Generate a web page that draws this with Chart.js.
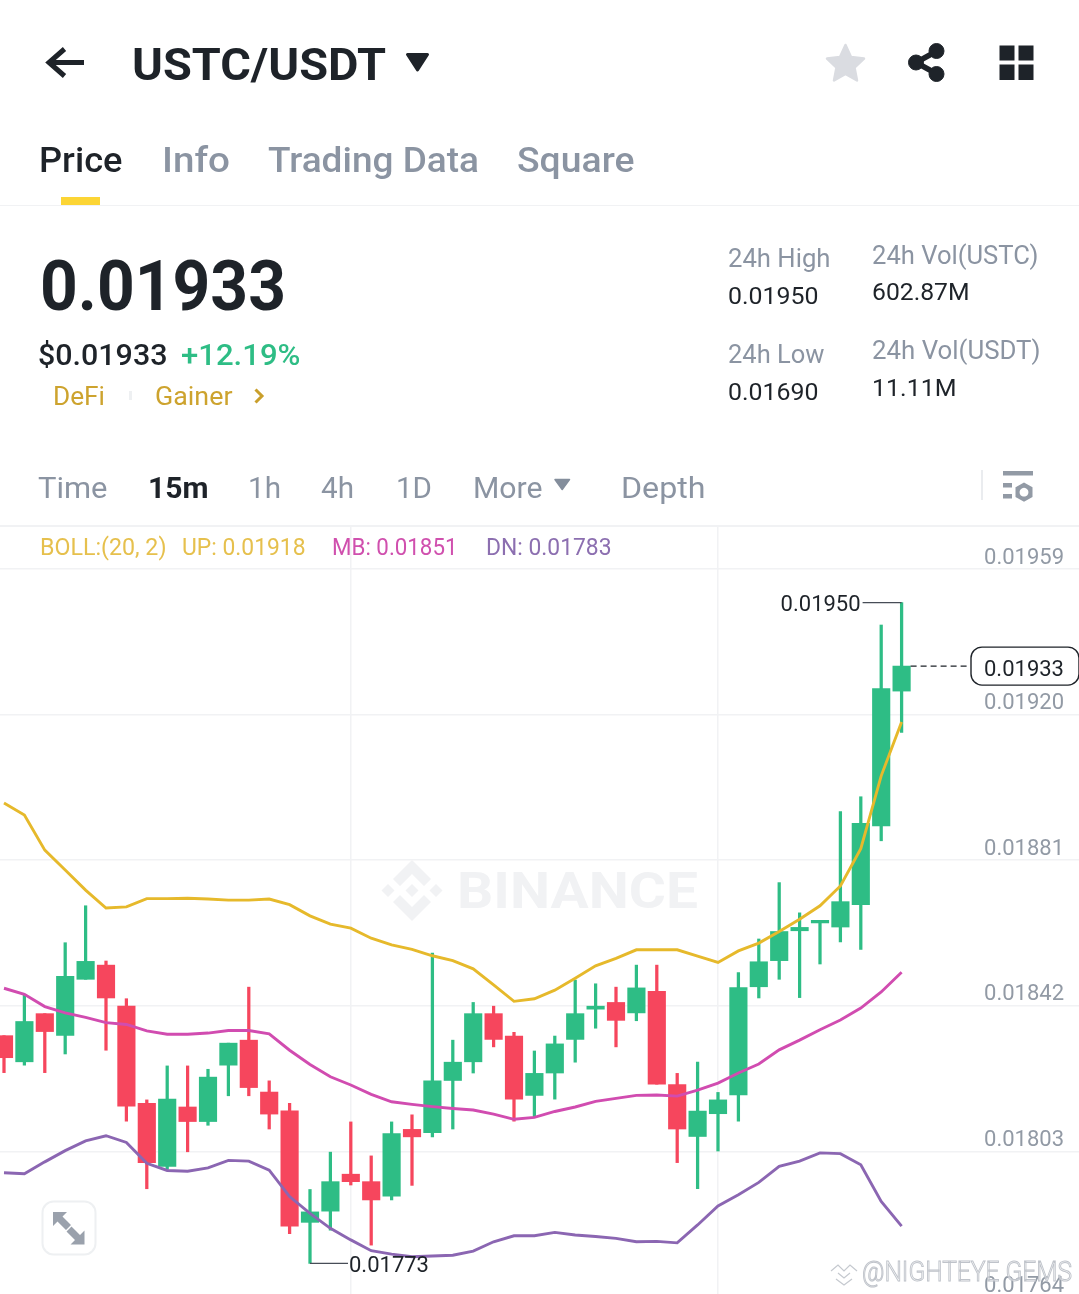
<!DOCTYPE html>
<html><head><meta charset="utf-8">
<script src="https://cdn.jsdelivr.net/npm/chart.js@4/dist/chart.umd.min.js"></script>
<style>
html,body{margin:0;padding:0;width:1079px;height:1294px;overflow:hidden;background:#fff;font-family:Roboto,sans-serif}
.t{position:absolute;white-space:nowrap;line-height:1;transform-origin:0 50%}
.hr{position:absolute;left:0;width:1079px;height:2px;background:#F1F2F4}
svg.over{position:absolute;left:0;top:0;z-index:3;pointer-events:none}
#wrap{position:absolute;left:0;top:526px;width:1079px;height:774px;z-index:2}
</style></head><body>
<svg class="over" width="1079" height="1294" viewBox="0 0 1079 1294">
  <path d="M84 62.5H50M64.5 49L49 62.5L64.5 76" fill="none" stroke="#1E2329" stroke-width="5"/>
  <path d="M407.500 54.500H427.500L417.500 70Z" fill="#1E2329" stroke="#1E2329" stroke-width="3" stroke-linejoin="round"/>
  <path d="M845.500 45L851 57L864 58.500L854.500 67.500L857 80.500L845.500 74L834 80.500L836.500 67.500L827 58.500L840 57Z" fill="#DADCE1" stroke="#DADCE1" stroke-width="2.500" stroke-linejoin="round"/>
  <g fill="#1E2329" stroke="#1E2329"><path d="M937 51L916 62.500L937 74" fill="none" stroke-width="5.500"/><circle cx="936.500" cy="51" r="7.500"/><circle cx="936.500" cy="74" r="7.500"/><circle cx="916" cy="62.500" r="7.500"/></g>
  <g fill="#1E2329"><rect x="999.500" y="45.500" width="15" height="15"/><rect x="1018.500" y="45.500" width="15" height="15"/><rect x="999.500" y="64.500" width="15" height="15.500"/><rect x="1018.500" y="64.500" width="15" height="15.500"/></g>
  <rect x="61" y="197" width="39" height="8" fill="#FCD535"/>
  <rect x="129" y="391" width="3" height="9" fill="#EEF0F2"/>
  <path d="M255.500 389.500L262 396L255.500 402.500" fill="none" stroke="#C99F2B" stroke-width="3"/>
  <path d="M555 479.500H569.500L562.200 489.500Z" fill="#848E9C" stroke="#848E9C" stroke-width="1.500" stroke-linejoin="round"/>
  <rect x="981" y="470" width="2" height="30" fill="#EAECEF"/>
  <g fill="#929AA5"><rect x="1003" y="471" width="30" height="4.500"/><rect x="1003" y="483" width="9" height="4.500"/><rect x="1003" y="494" width="9" height="4.500"/><path fill-rule="evenodd" d="M1024 482.500L1032.500 487.300V497L1024 501.800L1015.500 497V487.300ZM1024 487.800a4.400 4.400 0 1 0 0.010 0Z"/></g>
  <rect x="42.500" y="1201.500" width="53" height="53" rx="11" fill="#fff" stroke="#EEF0F2" stroke-width="2"/>
  <g fill="#9AA1AC"><path d="M53 1212H67L62.500 1216.500L71 1225L66 1230L57.500 1221.500L53 1226Z"/><path d="M84.500 1244.500H70.500L75 1240L66.500 1231.500L71.500 1226.500L80 1235L84.500 1230.500Z"/></g>
  <g fill="none" stroke="#C5C9CF" stroke-width="1.200"><path d="M831 1271L838 1265L844 1271L850 1265L857 1271"/><path d="M838 1273L844 1278L850 1273"/><path d="M836 1279L844 1285L852 1279"/></g>
</svg>
<svg style="position:absolute;left:0;top:0;z-index:0" width="1079" height="1294" viewBox="0 0 1079 1294">
  <g fill="#F1F2F4"><path d="M412 860L431 879L424 886L412 874L400 886L393 879Z"/><path d="M412 921L431 902L424 895L412 907L400 895L393 902Z"/><path d="M412 884L418.500 890.500L412 897L405.500 890.500Z"/><path d="M388 884L394.500 890.500L388 897L381.500 890.500Z"/><path d="M436 884L442.500 890.500L436 897L429.500 890.500Z"/></g>
</svg>
<div class="hr" style="top:205px;height:1px"></div>
<div class="hr" style="top:525px"></div>
<div id="wrap"><canvas id="c" width="1079" height="774" style="display:block;width:1079px;height:774px"></canvas></div>
<script>
// ---- chart data ----
const opens  = [0.018340,0.018270,0.018399,0.018341,0.018491,0.018529,0.018419,0.018159,0.017990,0.018149,0.018110,0.018261,0.018328,0.018189,0.018139,0.017840,0.017870,0.017969,0.017949,0.017910,0.018089,0.018080,0.018220,0.018270,0.018399,0.018339,0.018180,0.018240,0.018330,0.018411,0.018429,0.018401,0.018459,0.018209,0.018070,0.018131,0.018181,0.018471,0.018541,0.018621,0.018642,0.018631,0.018691,0.018902,0.019263];
const closes = [0.018281,0.018378,0.018351,0.018499,0.018539,0.018441,0.018151,0.018000,0.018170,0.018110,0.018229,0.018320,0.018201,0.018130,0.017830,0.017868,0.017949,0.017949,0.017900,0.018078,0.018069,0.018219,0.018269,0.018399,0.018330,0.018170,0.018239,0.018318,0.018399,0.018419,0.018381,0.018468,0.018210,0.018090,0.018138,0.018168,0.018469,0.018538,0.018619,0.018630,0.018649,0.018699,0.018909,0.019270,0.019330];
const highs  = [0.018340,0.018449,0.018399,0.018589,0.018688,0.018540,0.018439,0.018168,0.018259,0.018259,0.018250,0.018320,0.018470,0.018219,0.018159,0.017928,0.018028,0.018109,0.018018,0.018109,0.018128,0.018561,0.018328,0.018429,0.018419,0.018349,0.018299,0.018339,0.018489,0.018479,0.018470,0.018529,0.018529,0.018239,0.018269,0.018188,0.018509,0.018599,0.018750,0.018669,0.018649,0.018940,0.018980,0.019440,0.019500];
const lows   = [0.018241,0.018261,0.018241,0.018291,0.018491,0.018301,0.018111,0.017930,0.017982,0.018029,0.018100,0.018179,0.018179,0.018090,0.017810,0.017730,0.017819,0.017940,0.017779,0.017900,0.017939,0.018069,0.018090,0.018240,0.018310,0.018111,0.018123,0.018170,0.018269,0.018360,0.018310,0.018380,0.018210,0.018000,0.017930,0.018031,0.018111,0.018441,0.018491,0.018442,0.018532,0.018591,0.018571,0.018862,0.019152];
const bollUp = [0.018963,0.018931,0.018837,0.018784,0.018730,0.018682,0.018685,0.018707,0.018707,0.018708,0.018706,0.018703,0.018703,0.018706,0.018691,0.018661,0.018639,0.018628,0.018601,0.018583,0.018571,0.018554,0.018541,0.018519,0.018476,0.018432,0.018439,0.018462,0.018494,0.018527,0.018547,0.018570,0.018570,0.018570,0.018553,0.018536,0.018567,0.018588,0.018619,0.018652,0.018688,0.018741,0.018841,0.019036,0.019180];
const bollMb = [0.018467,0.018451,0.018418,0.018401,0.018389,0.018375,0.018370,0.018353,0.018344,0.018344,0.018347,0.018354,0.018354,0.018345,0.018301,0.018263,0.018230,0.018208,0.018183,0.018163,0.018156,0.018150,0.018145,0.018141,0.018130,0.018116,0.018121,0.018137,0.018149,0.018164,0.018172,0.018180,0.018181,0.018178,0.018194,0.018213,0.018240,0.018264,0.018302,0.018328,0.018356,0.018382,0.018414,0.018457,0.018510];
const bollDn = [0.017973,0.017970,0.018002,0.018032,0.018058,0.018072,0.018054,0.017998,0.017979,0.017977,0.017986,0.018006,0.018004,0.017980,0.017909,0.017864,0.017824,0.017793,0.017764,0.017755,0.017748,0.017750,0.017752,0.017763,0.017788,0.017804,0.017804,0.017813,0.017806,0.017802,0.017797,0.017788,0.017789,0.017785,0.017833,0.017884,0.017914,0.017947,0.017990,0.018004,0.018026,0.018024,0.017994,0.017896,0.017830];
const priceTicks = [0.01959,0.01920,0.01881,0.01842,0.01803,0.01764];
const dayHigh = 0.01950, dayLow = 0.01773, lastPrice = 0.01933;

const GREEN='#2EBD85', RED='#F6465D';
const idx = opens.map((_,i)=>i);
const candleColors = opens.map((o,i)=>closes[i]>=o?GREEN:RED);
const lineDs=(label,data,color)=>({type:'line',label,data:data.map((y,i)=>({x:i,y})),borderColor:color,borderWidth:2.9,pointRadius:0,tension:0,order:0,fill:false,clip:false});

const annot={id:'annot',afterDatasetsDraw(ch){
  const g=ch.ctx,x=ch.scales.x,y=ch.scales.y;
  g.save();
  g.font='22px Roboto';g.textBaseline='middle';g.fillStyle='#1E2329';
  // day high
  const hi=highs.indexOf(dayHigh),hx=x.getPixelForValue(hi),hy=y.getPixelForValue(dayHigh);
  g.strokeStyle='#474D57';g.lineWidth=1.4;
  g.beginPath();g.moveTo(hx,hy);g.lineTo(hx-39,hy);g.stroke();
  g.textAlign='right';g.fillText(dayHigh.toFixed(5),hx-41,hy+2.5);
  // day low
  const li=lows.indexOf(dayLow),lx=x.getPixelForValue(li),ly=y.getPixelForValue(dayLow);
  g.beginPath();g.moveTo(lx,ly);g.lineTo(lx+38,ly);g.stroke();
  g.textAlign='left';g.fillText(dayLow.toFixed(5),lx+39,ly+3.5);
  // last price
  const px=x.getPixelForValue(closes.length-1)+9,py=y.getPixelForValue(lastPrice);
  g.setLineDash([6,4]);g.strokeStyle='#1E2329';g.lineWidth=1.2;
  g.beginPath();g.moveTo(px,py);g.lineTo(968,py);g.stroke();g.setLineDash([]);
  g.fillStyle='#fff';g.strokeStyle='#1E2329';g.lineWidth=1.4;
  g.beginPath();g.roundRect(971,py-19,108,38,11);g.fill();g.stroke();
  g.fillStyle='#1E2329';g.textAlign='left';g.fillText(lastPrice.toFixed(5),984,py+4);
  g.restore();
}};

new Chart(document.getElementById('c'),{
  type:'bar',
  data:{datasets:[
    lineDs('UP',bollUp,'#E6B92B'),
    lineDs('MB',bollMb,'#D14CB0'),
    lineDs('DN',bollDn,'#8B66B2'),
    {label:'Body',data:idx.map(i=>({x:i,y:[opens[i],closes[i]]})),backgroundColor:candleColors,barThickness:17.5,grouped:false,order:1,borderSkipped:false},
    {label:'Wick',data:idx.map(i=>({x:i,y:[lows[i],highs[i]]})),backgroundColor:candleColors,barThickness:2.6,grouped:false,order:2,borderSkipped:false}
  ]},
  options:{
    responsive:false,animation:false,devicePixelRatio:1,
    layout:{padding:0},
    plugins:{legend:{display:false},tooltip:{enabled:false}},
    scales:{
      x:{type:'linear',offset:false,min:-0.196,max:52.696,
        afterBuildTicks:s=>{s.ticks=[{value:17},{value:35}]},
        afterFit:s=>{s.height=0},
        grid:{offset:false,color:'#F1F2F4',lineWidth:1.5,drawTicks:false},border:{display:false},ticks:{display:false}},
      y:{type:'linear',position:'right',beginAtZero:false,min:0.017632,max:0.0197052,
        afterBuildTicks:s=>{s.ticks=priceTicks.map(value=>({value}))},
        afterFit:s=>{s.width=0},
        grid:{color:'#F1F2F4',lineWidth:1.5,drawTicks:false},border:{display:false},
        ticks:{mirror:true,padding:-15,labelOffset:-11,autoSkip:false,color:'#929AA5',font:{family:'Roboto',size:22},callback:v=>v.toFixed(5)}}
    }
  },
  plugins:[annot]
});

// ---- page texts ----
const INK='#1E2329',GR='#8B94A2',GOLD='#CDA32E',BY='#E6C04D',BM='#D050AE',BP='#8C6FB0';
const texts=[
 ['USTC/USDT',132,80,45,INK,700,254],
 ['Price',39,172,35,INK,500,83.5],['Info',162,172,35,GR,500,68],['Trading Data',268,172,35,GR,500,211],['Square',517,172,35,GR,500,117.5],
 ['0.01933',40,310,70,INK,700,246],
 ['$0.01933',38,365,29,INK,500,129.5],['+12.19%',181,365,29,GREEN,500,119.5],
 ['DeFi',53,405,25,GOLD,400,52],['Gainer',155,405,25,GOLD,400,77.5],
 ['24h High',728,267,26,GR,400,102.5],['0.01950',728,304,24,INK,400,90.5],
 ['24h Low',728,363,26,GR,400,96.5],['0.01690',728,400,24,INK,400,90.5],
 ['24h Vol(USTC)',872,264,26,GR,400,166.5],['602.87M',872,300,24,INK,400,97.5],
 ['24h Vol(USDT)',872,359,26,GR,400,168.5],['11.11M',872,396,24,INK,400,84.5],
 ['Time',38,498,30,GR,400,69.5],['15m',148,498,30,INK,700,60.5],['1h',248,498,30,GR,400,33],['4h',321,498,30,GR,400,33],['1D',396,498,30,GR,400,36],['More',473,498,30,GR,400,69.5],['Depth',621,498,30,GR,400,84.5],
 ['BOLL:(20, 2)',40,556,23.5,BY,400,126.5],['UP: 0.01918',182,556,23.5,BY,400,123.5],['MB: 0.01851',332,556,23.5,BM,400,125.5],['DN: 0.01783',486,556,23.5,BP,400,125.5],
 ['BINANCE',457,908,50,'#F1F2F4',700,241,0]
];
texts.forEach(([s,x,b,fs,col,w,tw,z])=>{
  const e=document.createElement('div');e.className='t';e.textContent=s;
  e.style.cssText=`left:${x}px;top:${b-0.8415*fs}px;font-size:${fs}px;color:${col};font-weight:${w};z-index:${z===0?0:3}`;
  document.body.appendChild(e);
  e.style.transform=`scaleX(${tw/e.getBoundingClientRect().width})`;
});
const wm=document.createElement('div');wm.className='t';wm.textContent='@NIGHTEYE GEMS';
wm.style.cssText='left:862px;top:1258.4px;font-size:28px;color:rgba(255,255,255,.55);-webkit-text-stroke:1px #BFC3CA;z-index:4;font-weight:300';
document.body.appendChild(wm);
wm.style.transform=`scaleX(${210/wm.getBoundingClientRect().width})`;
</script>
</body></html>
